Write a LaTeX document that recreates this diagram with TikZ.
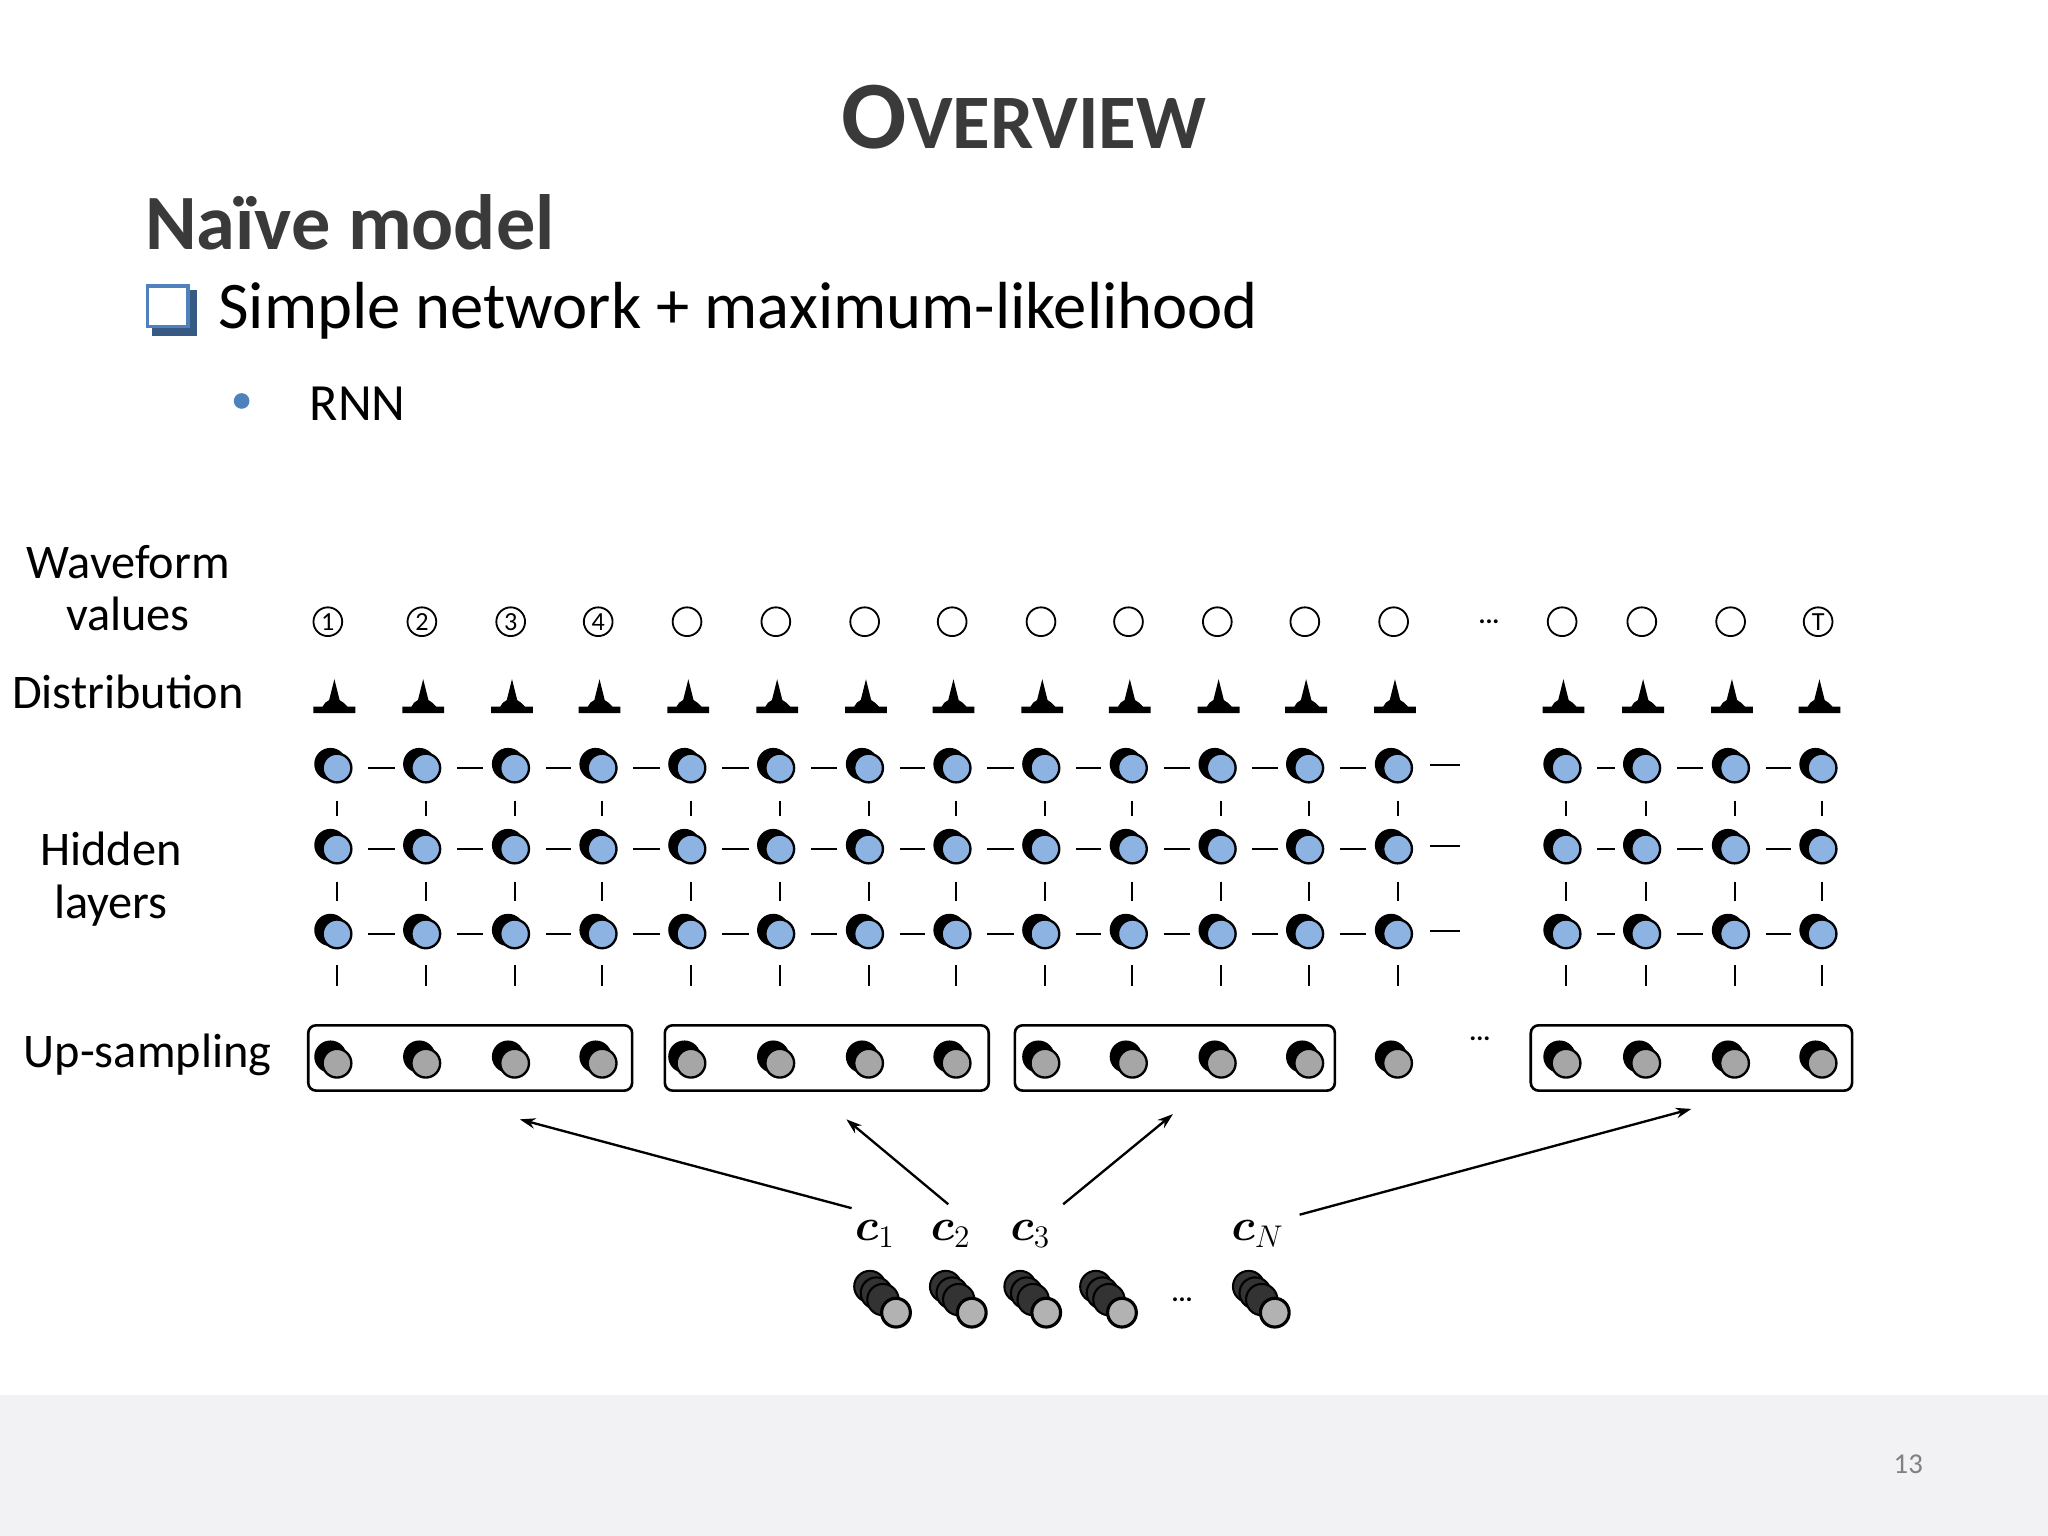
\documentclass[tikz,border=0pt]{standalone}
\usepackage{amsmath}
\usepackage{fontspec}
\setmainfont{Carlito}
\usetikzlibrary{arrows.meta}
\definecolor{hblue}{HTML}{8DB3E2}
\definecolor{ttl}{HTML}{3A3A3A}
\definecolor{band}{HTML}{F2F2F4}
\definecolor{bul}{HTML}{4F81BD}
\begin{document}
\begin{tikzpicture}[x=0.5pt,y=-0.5pt,
  hid/.style={circle,draw,line width=0.9pt,fill=hblue,minimum size=11pt,inner sep=0pt},
  ups/.style={circle,draw,line width=0.9pt,fill=gray!70,minimum size=11pt,inner sep=0pt},
  wav/.style={circle,draw,line width=0.7pt,minimum size=11pt,inner sep=0pt,font=\fontsize{10}{10}\selectfont},
  back/.style={fill=black},
  hc/.style={line width=0.8pt,shorten >=6pt,shorten <=6pt},
  vc/.style={line width=0.8pt,shorten >=6.5pt,shorten <=6.5pt},
  lab/.style={font=\fontsize{18.5}{20}\selectfont,align=center},
  box/.style={draw,line width=1pt,rounded corners=3pt},
  arr/.style={-{Stealth[length=6pt,width=4pt]},line width=0.9pt}]
\useasboundingbox (0,0) rectangle (1568,1176);
\fill[band] (0,1068) rectangle (1568,1176);
\node[text=gray] (pg) at (1461,1121) {\fontsize{11}{11}\selectfont 13};
% titles
\node[text=ttl,font=\bfseries] (title) at (784,90) {{\fontsize{37}{37}\selectfont O}{\fontsize{29.5}{29.5}\selectfont VERVIEW}};
\node[text=ttl,font=\bfseries\fontsize{30}{30}\selectfont,anchor=west] (naive) at (104,170) {Naïve model};
\fill[bul!70!black] (116,222) rectangle (151,257);
\fill[white] (113,219) rectangle (144,250);
\draw[bul,line width=1.3pt] (113,219) rectangle (144,250);
\node[font=\fontsize{25.5}{25.5}\selectfont,anchor=west] (simple) at (160,238) {Simple network + maximum-likelihood};
\fill[bul] (185,307) circle (3pt);
\node[font=\fontsize{20}{20}\selectfont,anchor=west] (rnn) at (230,309) {RNN};
% labels
\node[lab] (lw) at (98,450) {Waveform\\values};
\node[lab] (ld) at (98,530) {Distribution};
\node[lab] (lh) at (85,673) {Hidden\\layers};
\node[lab] (lu) at (113,808) {Up-sampling};
% columns
\foreach \x [count=\i] in {257,325,393,460,528,596,664,731,799,866,934,1001,1069,1198,1259,1327,1394}{
  \ifnum\i>4
  \ifnum\i=17 \node[wav] (w\i) at (\x-2,476) {T};
  \else \node[wav] (w\i) at (\x-2,476) {};\fi\fi
  \fill (\x-17,546) -- (\x-17,541) -- (\x-10,541) -- (\x-8,538) -- (\x-5,536) -- (\x-3,528) -- (\x-1,520) -- (\x+1,528) -- (\x+3,536) -- (\x+6,538) -- (\x+9,541) -- (\x+15,541) -- (\x+15,546) -- cycle;
  \foreach \y/\r in {588/1,650/2,715/3}{
    \fill[back] (\x-4,\y-3) circle (6.2pt);
    \node[hid] (h\r-\i) at (\x+1,\y) {};
  }
  \draw[vc] (h1-\i) -- (h2-\i);
  \draw[vc] (h2-\i) -- (h3-\i);
  \coordinate (b\i) at (\x+1,755);
  \draw[line width=0.8pt] (\x+1,739) -- (b\i);
  \fill[back] (\x-4,809) circle (6.2pt);
  \node[ups] (u\i) at (\x+1,814) {};
}
\node[wav] (w1) at (251,476) {1};
\node[wav] (w2) at (323,476) {2};
\node[wav] (w3) at (391,476) {3};
\node[wav] (w4) at (458,476) {4};
\node (wd) at (1140,476) {\textbf{...}};
\foreach \r in {1,2,3}{
  \foreach \i [evaluate=\i as \j using int(\i+1)] in {1,...,12,14,15,16}{
    \draw[hc] (h\r-\i) -- (h\r-\j);
  }
}
\draw[line width=0.8pt] (1095,586) -- (1118,586);
\draw[line width=0.8pt] (1095,648) -- (1118,648);
\draw[line width=0.8pt] (1095,713) -- (1118,713);
% boxes
\draw[box] (236,785) rectangle (484,835);
\draw[box] (509,785) rectangle (757,835);
\draw[box] (777,785) rectangle (1022,835);
\draw[box] (1172,785) rectangle (1418,835);
\node (ud) at (1133,795) {\textbf{...}};
% c labels
\node (c1) at (670,945) {\fontsize{18}{18}\selectfont$\boldsymbol{c}_1$};
\node (c2) at (728,945) {\fontsize{18}{18}\selectfont$\boldsymbol{c}_2$};
\node (c3) at (789,945) {\fontsize{18}{18}\selectfont$\boldsymbol{c}_3$};
\node (cN) at (963,945) {\fontsize{18}{18}\selectfont$\boldsymbol{c}_N$};
\coordinate (t1) at (398,857);
\coordinate (t2) at (648,857);
\coordinate (t3) at (898,853);
\coordinate (t4) at (1295,849);
\coordinate (f1) at (652,925);
\coordinate (f2) at (726,922);
\coordinate (f3) at (814,922);
\coordinate (f4) at (995,930);
\draw[arr] (f1) -- (t1);
\draw[arr] (f2) -- (t2);
\draw[arr] (f3) -- (t3);
\draw[arr] (f4) -- (t4);
% stacks
\foreach \x [count=\k] in {680,738,795,853,970}{
  \foreach \d in {0,1,2}{\draw[fill=black!80,line width=0.8pt,draw=black] (\x-14+\d*5,985+\d*5) circle (6pt);}
  \node[ups,fill=gray!60,line width=1.2pt] (s\k) at (\x+6,1005) {};
}
\node (sd) at (905,995) {\textbf{...}};
\end{tikzpicture}
\end{document}
